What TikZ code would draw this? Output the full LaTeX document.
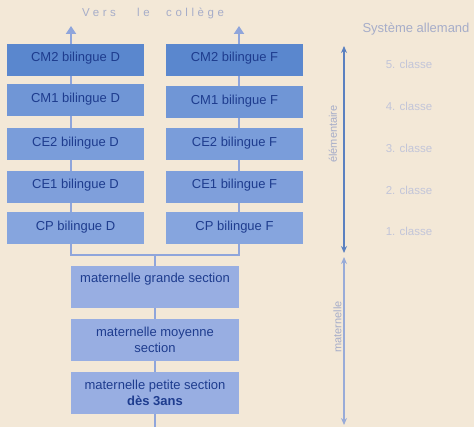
\documentclass[tikz,border=0pt]{standalone}
\usepackage{fontspec}
\setmainfont{Liberation Sans}
\usetikzlibrary{arrows.meta}
\definecolor{bg}{HTML}{F3E8D7}
\definecolor{cmtwo}{HTML}{5A87CE}
\definecolor{cmone}{HTML}{7096D6}
\definecolor{cetwo}{HTML}{7A9DDA}
\definecolor{ceone}{HTML}{7F9FDB}
\definecolor{cpc}{HTML}{86A5DE}
\definecolor{matc}{HTML}{98AEE2}
\definecolor{txtc}{HTML}{1E3C8E}
\definecolor{linkc}{HTML}{8FA5DB}
\definecolor{greytxt}{HTML}{A6ADC9}
\definecolor{classc}{HTML}{C2C5D9}
\definecolor{elemc}{HTML}{5A80C0}
\definecolor{matarr}{HTML}{98ABD8}
\begin{document}
\begin{tikzpicture}[x=1pt,y=-1pt,
  box/.style={inner sep=0pt, outer sep=0pt, minimum width=137pt, minimum height=32pt,
    text=txtc, font=\fontsize{13}{15.5}\selectfont, text height=10pt, text depth=6pt},
  mbox/.style={inner sep=0pt, outer sep=0pt, minimum width=168pt, minimum height=42pt,
    text=txtc, font=\fontsize{13}{15.5}\selectfont, align=center, fill=matc},
  link/.style={draw=linkc, line width=2pt},
  side/.style={text=greytxt, font=\fontsize{11}{13}\selectfont},
  cls/.style={text=classc, font=\fontsize{11.5}{13}\selectfont},
  vers/.style={text=greytxt, font=\fontsize{11.5}{13}\selectfont\addfontfeature{LetterSpace=31}, anchor=base west, inner sep=0pt}
]
\fill[bg] (0,0) rectangle (474,427);
\useasboundingbox (0,0) rectangle (474,427);

% left column
\node[box, fill=cmtwo] (cm2d) at (75.5,60) {CM2 bilingue D};
\node[box, fill=cmone] (cm1d) at (75.5,100.5) {CM1 bilingue D};
\node[box, fill=cetwo] (ce2d) at (75.5,144.5) {CE2 bilingue D};
\node[box, fill=ceone] (ce1d) at (75.5,187) {CE1 bilingue D};
\node[box, fill=cpc] (cpd) at (75.5,228.5) {CP bilingue D};
% right column
\node[box, fill=cmtwo] (cm2f) at (234.5,60) {CM2 bilingue F};
\node[box, fill=cmone] (cm1f) at (234.5,102.5) {CM1 bilingue F};
\node[box, fill=cetwo] (ce2f) at (234.5,144.5) {CE2 bilingue F};
\node[box, fill=ceone] (ce1f) at (234.5,187) {CE1 bilingue F};
\node[box, fill=cpc] (cpf) at (234.5,228.5) {CP bilingue F};
% maternelle
\node[mbox, text height=10pt, text depth=19.6pt] (mgs) at (155,287.5) {maternelle grande section};
\node[mbox] (mms) at (155,340) {maternelle moyenne\\section};
\node[mbox] (mps) at (155,393) {maternelle petite section\\\textbf{dès 3ans}};

\coordinate (lx) at (71,0);
\coordinate (rx) at (239,0);
\coordinate (topl) at (71,26);
\coordinate (topr) at (239,26);
\coordinate (brl) at (71,255);
\coordinate (brr) at (239,255);
\coordinate (brc) at (155,255);
\coordinate (bottom) at (155,427);

% connectors (south = lower edge on the page)
\draw[link] (cpd.north -| lx) -- (ce1d.south -| lx);
\draw[link] (ce1d.north -| lx) -- (ce2d.south -| lx);
\draw[link] (ce2d.north -| lx) -- (cm1d.south -| lx);
\draw[link] (cm1d.north -| lx) -- (cm2d.south -| lx);
\draw[link] (cpf.north -| rx) -- (ce1f.south -| rx);
\draw[link] (ce1f.north -| rx) -- (ce2f.south -| rx);
\draw[link] (ce2f.north -| rx) -- (cm1f.south -| rx);
\draw[link] (cm1f.north -| rx) -- (cm2f.south -| rx);
\draw[link, -{Triangle[width=10pt,length=8pt]}] (cm2d.north -| lx) -- (topl);
\draw[link, -{Triangle[width=10pt,length=8pt]}] (cm2f.north -| rx) -- (topr);
\draw[link, line width=1.6pt] (cpd.south -| lx) -- (brl) -- (brr) -- (cpf.south -| rx);
\draw[link, line width=1.6pt] (brc) -- (mgs.north);
\draw[link, line width=1.6pt] (mgs.south) -- (mms.north);
\draw[link, line width=1.6pt] (mms.south) -- (mps.north);
\draw[link, line width=1.6pt] (mps.south) -- (bottom);

% Vers le collège
\node[vers] (v1) at (82,17) {Vers};
\node[vers] (v2) at (137,17) {le};
\node[vers] (v3) at (166,17) {collège};

% right side
\coordinate (ea) at (344,46);
\coordinate (eb) at (344,253);
\coordinate (ma) at (344,257);
\coordinate (mb) at (344,425);
\draw[elemc, line width=1.7pt, {Stealth[length=7pt,width=6pt]}-{Stealth[length=7pt,width=6pt]}] (ea) -- (eb);
\draw[matarr, line width=1.5pt, {Stealth[length=7pt,width=6pt]}-{Stealth[length=7pt,width=6pt]}] (ma) -- (mb);
\node[side, rotate=90] (elem) at (333,134) {élémentaire};
\node[side, rotate=90] (mat) at (337.5,327) {maternelle};

\node[text=greytxt, font=\fontsize{13}{15}\selectfont] (sys) at (416,29.5) {Système allemand};
\node[cls] (c5) at (409,64.5) {5. classe};
\node[cls] (c4) at (409,106) {4. classe};
\node[cls] (c3) at (409,148.3) {3. classe};
\node[cls] (c2) at (409,190.7) {2. classe};
\node[cls] (c1) at (409,231.7) {1. classe};
\end{tikzpicture}
\end{document}
